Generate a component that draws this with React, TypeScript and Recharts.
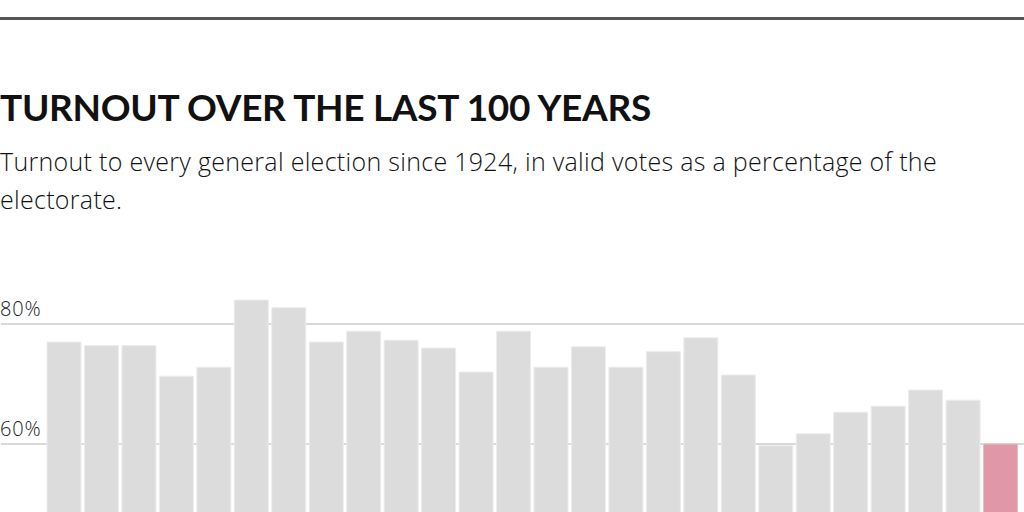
import { BarChart, Bar, XAxis, YAxis, CartesianGrid, Cell } from "recharts";

const years = [
  "1924", "1929", "1931", "1935", "1945", "1950", "1951", "1955", "1959", "1964", "1966", "1970", "1974 Feb",
  "1974 Oct", "1979", "1983", "1987", "1992", "1997", "2001", "2005", "2010", "2015", "2017", "2019", "2024",
];
const turnout = [
  77.0, 76.4, 76.4, 71.3, 72.8, 84.0, 82.7, 77.0, 78.8, 77.3, 76.0, 72.0, 78.8,
  72.8, 76.2, 72.8, 75.4, 77.7, 71.5, 59.7, 61.7, 65.3, 66.3, 69.0, 67.3, 60.0,
];
// only the gridlines that fall inside the cropped view
const yTicks = [60, 80];
const latest = "2024";

const data = years.map((year, i) => ({ year, turnout: turnout[i] }));

const TITLE_FONT = "Lato, sans-serif";
const BODY_FONT = "'Open Sans', sans-serif";

const renderYTick = (props: any) => {
  const { y, payload } = props;
  return (
    <text
      x={0}
      y={y - 8}
      textAnchor="start"
      fill="#1a1a1a"
      fontSize={20}
      letterSpacing={0.8}
      fontFamily={BODY_FONT}
      fontWeight={300}
    >
      {payload.value}%
    </text>
  );
};

export default function App() {
  return (
    <div style={{ position: "absolute", left: 0, top: 0, width: 1024, height: 512, overflow: "hidden", background: "#fff" }}>
      <div style={{ position: "absolute", left: 0, top: 17, width: 1024, height: 3, background: "#555" }} />
      <div
        style={{
          position: "absolute",
          left: 0,
          top: 85,
          fontFamily: TITLE_FONT,
          fontWeight: 700,
          fontSize: 37,
          letterSpacing: "-0.3px",
          lineHeight: 1.2,
          color: "#111",
          whiteSpace: "nowrap",
        }}
      >
        TURNOUT OVER THE LAST 100 YEARS
      </div>
      <div
        style={{
          position: "absolute",
          left: 0,
          top: 142,
          width: 990,
          fontFamily: BODY_FONT,
          fontWeight: 300,
          fontSize: 25,
          letterSpacing: "0.3px",
          lineHeight: "38px",
          color: "#111",
        }}
      >
        Turnout to every general election since 1924, in valid votes as a percentage of the electorate.
      </div>
      <div style={{ position: "absolute", left: 0, top: -36 }}>
        <BarChart width={1024} height={840} data={data} margin={{ top: 0, right: 0, bottom: 0, left: 0 }} barCategoryGap={1.5}>
          <CartesianGrid horizontal vertical={false} stroke="#cccccc" strokeWidth={1.5} />
          <XAxis dataKey="year" hide padding={{ left: 44.5, right: 4.5 }} />
          <YAxis
            width={1}
            domain={[0, 140]}
            ticks={yTicks}
            axisLine={false}
            tickLine={false}
            tick={renderYTick}
            interval={0}
          />
          <Bar dataKey="turnout" isAnimationActive={false} strokeWidth={1}>
            {data.map((d) => (
              <Cell
                key={d.year}
                fill={d.year === latest ? "#e097a7" : "#dcdcdc"}
                stroke={d.year === latest ? "#eeb8c4" : "#ececec"}
              />
            ))}
          </Bar>
        </BarChart>
      </div>
    </div>
  );
}
